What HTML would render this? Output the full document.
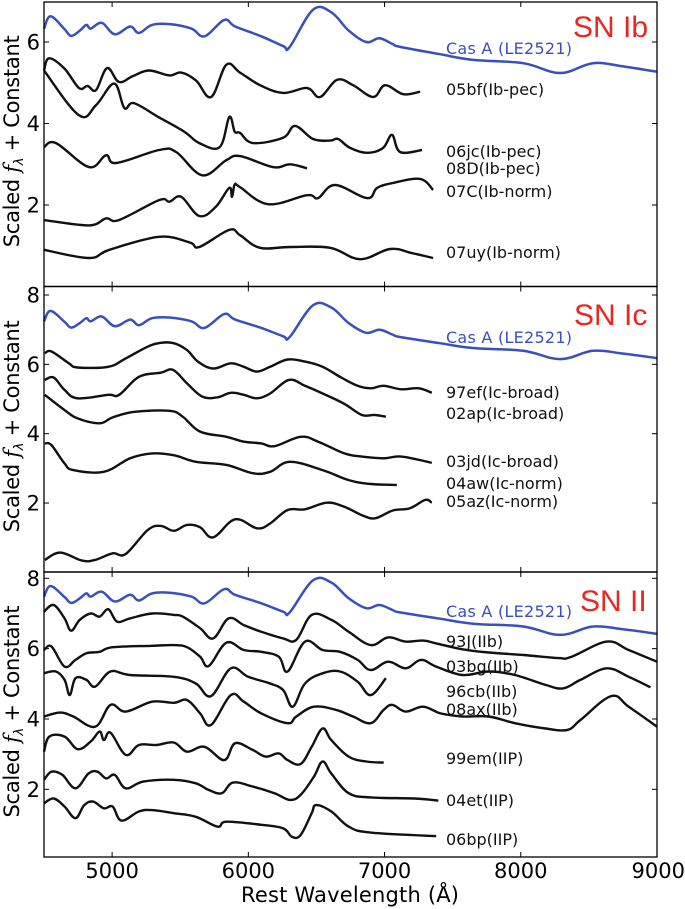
<!DOCTYPE html>
<html><head><meta charset="utf-8"><style>
html,body{margin:0;padding:0;background:#fff;}
svg{display:block;font-family:"DejaVu Sans","Liberation Sans",sans-serif;}
</style></head><body>
<svg id="chart" width="685" height="909" viewBox="0 0 685 909" xmlns="http://www.w3.org/2000/svg">
<rect x="0" y="0" width="685" height="909" fill="#fff"/>
<g id="curves"></g>
<g id="axes"></g>
<g id="labels"></g>
</svg>
<script>
// ---- data (wavelength Å, scaled flux + constant) ----
const xTicks = [5000, 6000, 7000, 8000, 9000];
const xTickLabels = ["5000", "6000", "7000", "8000", "9000"];
const p1YTicks = [2, 4, 6];
const p2YTicks = [2, 4, 6, 8];
const p3YTicks = [2, 4, 6, 8];
const casAWave = [4500,4548,4650,4699,4763,4811,4843,4924,5020,5132,5197,5293,5421,5582,5678,5823,5903,6095,6256,6304,6474,6609,6737,6866,6962,7058,7114,7407,7650,8017,8289,8530,8751,9000];
const casAFlux = [6.33,6.63,6.32,6.15,6.28,6.42,6.33,6.47,6.19,6.38,6.22,6.42,6.44,6.33,6.14,6.54,6.38,6.14,5.9,5.88,6.79,6.73,6.28,6.0,6.09,5.95,5.88,5.7,5.56,5.48,5.24,5.48,5.4,5.27];
const casAOffsets = [0, 0.91, 1.15];

// Panel 1 (SN Ib)
const sn05bfW = [4500,4537,4650,4757,4820,4882,4963,5050,5150,5270,5420,5507,5617,5727,5838,5939,6086,6255,6431,6526,6651,6769,6916,7004,7136,7261];
const sn05bfF = [5.3,5.6,5.35,4.87,4.92,4.82,5.36,5.02,5.16,5.3,5.18,5.25,5.05,4.65,5.44,5.25,4.94,4.75,4.87,4.65,5.07,4.94,4.65,4.94,4.72,4.78];
const sn06jcW = [4500,4757,4882,5015,5090,5160,5345,5530,5640,5790,5860,5900,5939,6035,6255,6343,6475,6600,6659,6747,6872,6989,7055,7114,7275];
const sn06jcF = [5.3,4.2,4.45,4.98,4.38,4.5,4.15,3.8,3.52,3.42,4.16,3.8,3.77,3.52,3.65,3.94,3.62,3.58,3.62,3.4,3.28,3.4,3.72,3.3,3.35];
const sn08DW = [4500,4588,4830,4955,5030,5345,5470,5662,5838,5939,6181,6306,6431];
const sn08DF = [3.42,3.52,2.93,3.22,3.03,3.35,3.3,2.73,3.1,3.2,2.93,3.0,2.9];
const sn07CW = [4500,4830,4955,5050,5345,5420,5507,5640,5760,5860,5880,5900,5939,6145,6431,6512,6636,6872,6945,7062,7261,7356];
const sn07CF = [1.63,1.5,1.67,1.63,2.12,2.08,2.2,1.73,1.95,2.42,2.2,2.5,2.44,2.02,2.24,2.17,2.49,2.17,2.42,2.54,2.64,2.37];
const sn07uyW = [4500,4830,4980,5345,5570,5640,5860,5939,6086,6306,6600,6820,7040,7200,7356];
const sn07uyF = [0.9,0.7,0.9,1.22,1.08,0.97,1.39,1.26,0.95,0.97,0.95,0.67,0.92,0.82,0.7];

// Panel 2 (SN Ic)
const sn97efW = [4506,4555,4683,4747,4972,5100,5261,5357,5453,5550,5630,5742,5871,5967,6063,6160,6288,6416,6545,6673,6802,6898,6994,7123,7251,7347];
const sn97efF = [6.32,6.37,6.03,5.91,5.93,6.17,6.51,6.62,6.61,6.41,6.08,5.88,6.03,5.93,5.79,5.93,6.14,6.08,5.93,5.64,5.38,5.31,5.38,5.28,5.31,5.18];
const sn02apW = [4506,4571,4651,4747,4972,5052,5197,5357,5447,5550,5662,5774,5871,5967,6063,6160,6298,6416,6545,6705,6834,6930,7010];
const sn02apF = [5.55,5.62,5.26,5.02,5.12,5.12,5.64,5.76,5.84,5.45,5.07,5.05,5.18,5.12,5.02,5.16,5.55,5.38,5.16,4.86,4.54,4.54,4.49];
const sn03jdW = [4506,4651,4747,4908,5004,5164,5421,5518,5646,5839,5967,6095,6192,6384,6513,6705,6834,6994,7123,7347];
const sn03jdF = [5.12,4.68,4.44,4.3,4.47,4.63,4.66,4.49,4.06,3.91,3.77,3.72,3.64,3.91,3.77,3.43,3.34,3.29,3.34,3.16];
const sn04awW = [4506,4555,4651,4715,4940,5132,5293,5453,5614,5839,6031,6160,6304,6545,6737,6898,7090];
const sn04awF = [3.72,3.67,3.14,2.95,2.9,3.29,3.43,3.38,3.19,3.1,2.86,2.9,3.19,2.95,2.66,2.55,2.52];
const sn05azW = [4506,4619,4779,4876,5004,5100,5261,5357,5453,5550,5646,5742,5903,6063,6160,6288,6416,6577,6705,6834,6930,7058,7187,7299,7347];
const sn05azF = [0.36,0.57,0.34,0.36,0.55,0.53,1.22,1.34,1.2,1.37,1.3,1.01,1.53,1.27,1.41,1.8,1.82,2.01,1.89,1.65,1.56,1.78,1.85,2.09,2.01];

// Panel 3 (SN II)
const sn93JW = [4500,4571,4651,4699,4763,4843,4908,4972,5036,5132,5293,5453,5518,5646,5742,5855,5967,6095,6256,6352,6465,6609,6737,6898,7026,7155,7283,7379,7572,7765,8021,8278,8374,8631,8792,9000];
const sn93JF = [7.05,7.24,6.86,6.51,6.82,7.0,6.91,7.12,6.77,6.86,7.0,6.96,6.91,6.58,6.29,6.86,6.67,6.48,6.29,6.25,6.96,6.82,6.48,6.1,6.32,6.2,6.23,6.15,5.98,5.89,5.82,5.73,5.77,6.2,5.96,5.63];
const sn03bgW = [4500,4555,4651,4731,4811,4908,5004,5293,5453,5550,5646,5710,5839,5967,6095,6224,6288,6416,6545,6673,6802,6898,7026,7155,7267,7379,7572,7765,7957,8182,8310,8438,8631,8792,8952];
const sn03bgF = [5.96,6.06,5.49,5.68,5.87,5.91,6.04,6.08,6.1,6.04,5.77,5.51,6.17,5.96,5.91,5.77,5.35,6.2,5.96,5.91,5.68,5.39,5.63,5.44,5.68,5.49,5.25,5.35,5.25,4.97,4.87,5.11,5.44,5.2,4.9];
const sn96cbW = [4500,4587,4651,4689,4731,4811,4876,4988,5132,5453,5614,5726,5871,5999,6160,6256,6326,6416,6545,6673,6802,6898,7010];
const sn96cbF = [5.3,5.35,5.11,4.68,5.16,5.11,4.92,5.35,5.25,5.2,5.01,4.65,5.44,5.2,5.01,4.82,4.35,5.01,5.3,5.35,5.06,4.68,5.16];
const sn08axW = [4500,4619,4715,4876,4988,5100,5293,5453,5550,5646,5726,5871,5967,6095,6288,6352,6481,6641,6769,6898,6994,7058,7155,7283,7411,7572,7765,7957,8182,8342,8438,8663,8792,9000];
const sn08axF = [4.07,4.18,4.07,3.78,4.4,4.21,4.49,4.46,4.54,4.16,3.83,4.68,4.49,4.16,3.88,4.07,4.35,4.26,4.07,3.88,4.26,4.4,4.21,4.35,4.16,4.07,4.07,3.88,3.73,3.69,3.97,4.65,4.35,3.78];
const sn99emW = [4500,4539,4651,4747,4843,4908,4940,4988,5100,5197,5325,5453,5550,5678,5823,5903,6031,6128,6224,6288,6384,6465,6545,6609,6737,6866,6994];
const sn99emF = [3.07,3.5,3.5,3.14,3.36,3.64,3.4,3.61,2.98,3.26,3.26,3.33,3.07,3.21,2.83,3.31,3.12,2.93,3.02,2.83,2.72,3.21,3.73,3.4,2.93,2.79,2.76];
const sn04etW = [4500,4555,4635,4731,4827,4892,4956,5020,5100,5229,5453,5614,5710,5806,5887,6031,6192,6304,6384,6481,6545,6609,6737,6898,7219,7395];
const sn04etF = [2.27,2.5,2.41,2.03,2.45,2.5,2.31,2.41,2.03,2.22,2.27,2.17,1.98,1.89,2.19,2.08,1.89,1.7,1.84,2.36,2.79,2.45,1.89,1.77,1.74,1.68];
const sn06bpW = [4500,4571,4651,4731,4795,4860,4940,5004,5068,5197,5293,5453,5614,5774,5839,6095,6256,6320,6384,6465,6497,6609,6737,6898,7379];
const sn06bpF = [1.6,1.74,1.51,1.18,1.55,1.65,1.46,1.51,1.11,1.37,1.41,1.32,1.22,0.94,1.08,0.99,0.89,0.65,0.7,1.32,1.55,1.37,0.94,0.77,0.67];

// ---- geometry ----
const X0 = 44, X1 = 657, W0 = 4500, W1 = 9000;
function xScale(w){ return X0 + (w - W0) * (X1 - X0) / (W1 - W0); }
const panels = [
  {top:2, bottom:286.5, ref:6, refY:42, ppu:40.75, ticks:p1YTicks, title:"SN Ib", titleX:573, titleY:37, casY:54},
  {top:286.5, bottom:572, ref:8, refY:295, ppu:34.67, ticks:p2YTicks, title:"SN Ic", titleX:574, titleY:325, casY:343},
  {top:572, bottom:857, ref:8, refY:578.3, ppu:35.17, ticks:p3YTicks, title:"SN II", titleX:580, titleY:611, casY:617}
];
function yScale(p, v){ return p.refY + (p.ref - v) * p.ppu; }

const series = [
  {p:0, w:sn05bfW, f:sn05bfF, name:"05bf(Ib-pec)", ly:95},
  {p:0, w:sn06jcW, f:sn06jcF, name:"06jc(Ib-pec)", ly:157},
  {p:0, w:sn08DW, f:sn08DF, name:"08D(Ib-pec)", ly:174},
  {p:0, w:sn07CW, f:sn07CF, name:"07C(Ib-norm)", ly:197},
  {p:0, w:sn07uyW, f:sn07uyF, name:"07uy(Ib-norm)", ly:258},
  {p:1, w:sn97efW, f:sn97efF, name:"97ef(Ic-broad)", ly:398},
  {p:1, w:sn02apW, f:sn02apF, name:"02ap(Ic-broad)", ly:419},
  {p:1, w:sn03jdW, f:sn03jdF, name:"03jd(Ic-broad)", ly:467},
  {p:1, w:sn04awW, f:sn04awF, name:"04aw(Ic-norm)", ly:489},
  {p:1, w:sn05azW, f:sn05azF, name:"05az(Ic-norm)", ly:507},
  {p:2, w:sn93JW, f:sn93JF, name:"93J(IIb)", ly:647},
  {p:2, w:sn03bgW, f:sn03bgF, name:"03bg(IIb)", ly:672},
  {p:2, w:sn96cbW, f:sn96cbF, name:"96cb(IIb)", ly:697},
  {p:2, w:sn08axW, f:sn08axF, name:"08ax(IIb)", ly:715},
  {p:2, w:sn99emW, f:sn99emF, name:"99em(IIP)", ly:764},
  {p:2, w:sn04etW, f:sn04etF, name:"04et(IIP)", ly:806},
  {p:2, w:sn06bpW, f:sn06bpF, name:"06bp(IIP)", ly:845}
];

const NS = "http://www.w3.org/2000/svg";
function mk(tag, attrs, parent){
  const e = document.createElementNS(NS, tag);
  for (const k in attrs) e.setAttribute(k, attrs[k]);
  parent.appendChild(e); return e;
}
function smoothPath(pts){
  let d = "M" + pts[0][0].toFixed(1) + "," + pts[0][1].toFixed(1);
  for (let i = 0; i < pts.length - 1; i++){
    const p0 = pts[Math.max(0,i-1)], p1 = pts[i], p2 = pts[i+1], p3 = pts[Math.min(pts.length-1,i+2)];
    const t = 0.18;
    const c1x = p1[0] + (p2[0]-p0[0])*t, c1y = p1[1] + (p2[1]-p0[1])*t;
    const c2x = p2[0] - (p3[0]-p1[0])*t, c2y = p2[1] - (p3[1]-p1[1])*t;
    d += " C" + c1x.toFixed(1)+","+c1y.toFixed(1)+" "+c2x.toFixed(1)+","+c2y.toFixed(1)+" "+p2[0].toFixed(1)+","+p2[1].toFixed(1);
  }
  return d;
}
const gC = document.getElementById("curves");
const gA = document.getElementById("axes");
const gL = document.getElementById("labels");

panels.forEach((p, pi) => {
  const pts = casAWave.map((w,i) => [xScale(w), yScale(p, casAFlux[i] + casAOffsets[pi])]);
  const cas = mk("path", {d:smoothPath(pts), fill:"none", stroke:"#3a4fbf", "stroke-width":2.5, "stroke-linejoin":"round"}, gC);
  
  
  const ct = mk("text", {x:446, y:p.casY, fill:"#3a4fbf", "font-size":16, textLength:126}, gL);
  ct.textContent = "Cas A (LE2521)";
  
  
  const tt = mk("text", {x:p.titleX, y:p.titleY, fill:"#e8281e", "font-size":30, "font-family":"Liberation Sans, sans-serif"}, gL);
  tt.textContent = p.title;
  
  
  const fr = mk("rect", {x:X0, y:p.top, width:X1-X0, height:p.bottom-p.top, fill:"none", stroke:"#000", "stroke-width":1.3}, gA);
  
  
  xTicks.forEach(w => {
    const x = xScale(w);
    const t1 = mk("line", {x1:x, x2:x, y1:p.top, y2:p.top+5, stroke:"#000", "stroke-width":1}, gA);
    
    
    const t2 = mk("line", {x1:x, x2:x, y1:p.bottom, y2:p.bottom-5, stroke:"#000", "stroke-width":1}, gA);
    
    
  });
  p.ticks.forEach(v => {
    const y = yScale(p, v);
    const a = mk("line", {x1:X0, x2:X0+5, y1:y, y2:y, stroke:"#000", "stroke-width":1}, gA);
    
    
    const b = mk("line", {x1:X1, x2:X1-5, y1:y, y2:y, stroke:"#000", "stroke-width":1}, gA);
    
    
    const lt = mk("text", {x:40, y:y+7.5, "text-anchor":"end", "font-size":21}, gL);
    lt.textContent = String(v);
    
    
  });
  const cy = (p.top + p.bottom)/2 - 3;
  const yt = mk("text", {x:0, y:0, "text-anchor":"middle", "font-size":21, transform:"translate(19,"+cy+") rotate(-90)", textLength:212}, gL);
  
  
  yt.appendChild(document.createTextNode("Scaled "));
  const ts = mk("tspan", {"font-style":"italic", "font-family":"DejaVu Serif, serif"}, yt); ts.textContent = "f";
  const ts2 = mk("tspan", {"font-size":13, dy:4, "font-style":"italic"}, yt); ts2.textContent = "λ";
  const ts3 = mk("tspan", {dy:-4}, yt); ts3.textContent = " + Constant";
});

series.forEach(s => {
  const p = panels[s.p];
  const pts = s.w.map((w,i) => [xScale(w), yScale(p, s.f[i])]);
  const path = mk("path", {d:smoothPath(pts), fill:"none", stroke:"#111", "stroke-width":2.4, "stroke-linejoin":"round"}, gC);
  
  
  const t = mk("text", {x:446, y:s.ly, "font-size":16, fill:"#111"}, gL);
  t.textContent = s.name;
  
  
});

xTicks.forEach((w,i) => {
  const anchor = i === xTicks.length-1 ? "end" : "middle";
  const x = i === xTicks.length-1 ? 685 : xScale(w);
  const t = mk("text", {x:x, y:878, "text-anchor":anchor, "font-size":21}, gL);
  t.textContent = xTickLabels[i];
  
  
});
const xt = mk("text", {x:350, y:902, "text-anchor":"middle", "font-size":21, textLength:218}, gL);
xt.textContent = "Rest Wavelength (Å)";


</script>
</body></html>
